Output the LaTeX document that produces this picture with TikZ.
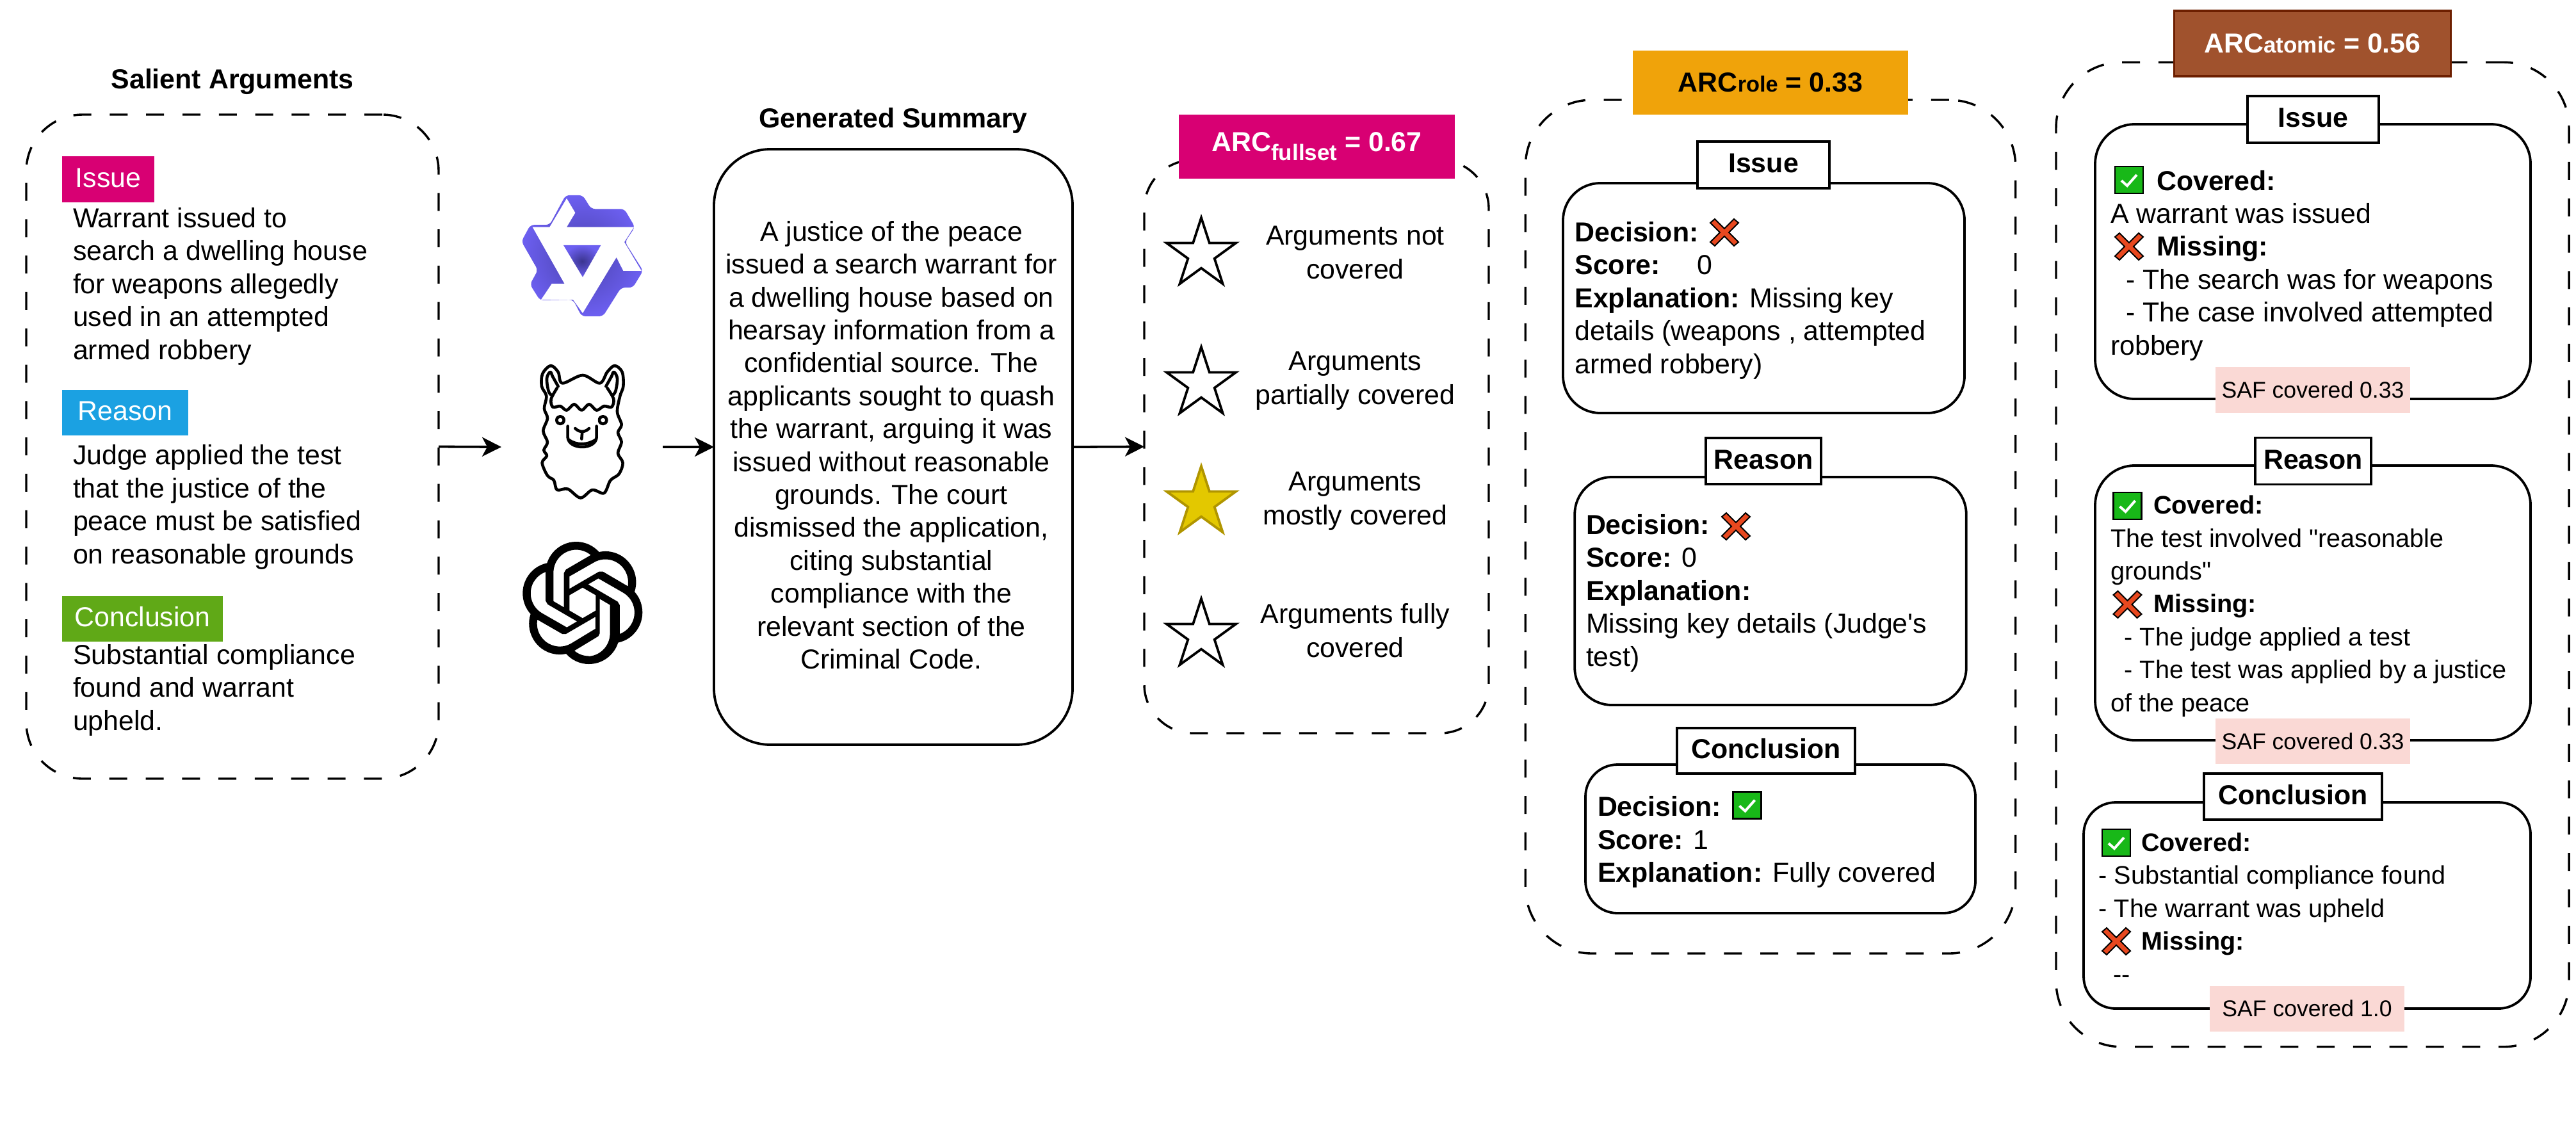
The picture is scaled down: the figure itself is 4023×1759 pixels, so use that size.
\documentclass[tikz,border=0pt]{standalone}
\usepackage{fontspec}
\defaultfontfeatures[\rmfamily]{}
\setmainfont{Liberation Sans}
\usetikzlibrary{arrows.meta,shapes.geometric,positioning,svg.path}

\definecolor{issuepink}{HTML}{D80073}
\definecolor{reasonblue}{HTML}{1BA1E2}
\definecolor{conclgreen}{HTML}{60A917}
\definecolor{roleorange}{HTML}{F0A30A}
\definecolor{atomicbrown}{HTML}{A0522D}
\definecolor{atomicedge}{HTML}{6D1F00}
\definecolor{safpink}{HTML}{FAD9D5}
\definecolor{stargold}{HTML}{E3C800}
\definecolor{staredge}{HTML}{B09500}
\definecolor{tickgreen}{HTML}{18B818}
\definecolor{crossred}{HTML}{E8481F}
\definecolor{qwenpurple}{HTML}{6C5FF0}
\definecolor{qwendark}{HTML}{3B3590}

\newcommand{\bodysize}{\fontsize{10.72}{12.85}\selectfont}
\newcommand{\tightsize}{\fontsize{9.9}{12.85}\selectfont}

\tikzset{
  tickbox/.pic={
    \draw[fill=tickgreen,line width=.6pt] (-22,-21) rectangle (22,21);
    \draw[white,line width=1pt] (-12,1) -- (-3,9) -- (12,-8);
  },
  crossbox/.pic={
    \draw[fill=crossred,line width=.5pt] (-22,-15) -- (-15,-21) -- (0,-6) -- (15,-21) -- (22,-15)
      -- (7,0) -- (22,15) -- (15,21) -- (0,6) -- (-15,21) -- (-22,15) -- (-7,0) -- cycle;
  }
}

\begin{document}
\begin{tikzpicture}[
        x=.25pt, y=-.25pt,
        every node/.style={inner sep=0pt, outer sep=0pt, font=\bodysize, align=center},
        size/.style 2 args={minimum width=#1*.25pt, minimum height=#2*.25pt},
        dashpanel/.style={draw, line width=.85pt, dash pattern=on 7pt off 7.2pt},
        panel/.style={draw, line width=.95pt, fill=white},
        tagbox/.style={text=white, text height=7.75pt, text depth=1.75pt},
        scoretag/.style={font=\bodysize\bfseries},
        rolelabel/.style={draw, line width=.95pt, fill=white, font=\bodysize\bfseries, text height=7.75pt, text depth=1.75pt},
        saftag/.style={fill=safpink, font=\fontsize{8.9}{10}\selectfont},
        bodytext/.style={anchor=base west, align=left},
        heading/.style={font=\bodysize\bfseries},
        ratestar/.style={star, star points=5, star point ratio=2.62, draw, line width=.95pt, fill=white, minimum size=28.5pt},
        flow/.style={line width=.95pt, -{Stealth[length=7.5pt,width=7.5pt,inset=2pt]}}
    ]
    \useasboundingbox (0,0) rectangle (4023,1759);

    % Salient arguments
    \node (salient) at (363,697.5) [dashpanel, size={644}{1037}, rounded corners=22pt] {};
    \node (salienttitle) [heading, above=7.75pt of salient] {Salient Arguments};
    \node (issuetag) at (169,280) [tagbox, fill=issuepink, size={144}{72}] {Issue};
    \node (issuetext) at (114,561) [bodytext] {Warrant issued to\\search a dwelling house\\for weapons allegedly\\used in an attempted\\armed robbery};
    \node (reasontag) at (195.5,644.5) [tagbox, fill=reasonblue, size={197}{71}] {Reason};
    \node (reasontext) at (114,880) [bodytext] {Judge applied the test\\that the justice of the\\peace must be satisfied\\on reasonable grounds};
    \node (conclusiontag) at (222.5,966.5) [tagbox, fill=conclgreen, size={251}{71}] {Conclusion};
    \node (conclusiontext) at (114,1140) [bodytext] {Substantial compliance\\found and warrant\\upheld.};

    % Model logos
    \node (models) at (909,698) [size={252}{60}] {};
    \begin{scope}[shift={(760,280)}, xscale=1/3, yscale=.4975]
      \shade[inner color=qwendark!70!qwenpurple, outer color=qwenpurple, rounded corners=1.5pt]
        (370,50) -- (450,50) -- (490,93) -- (645,93) -- (695,150) -- (648,197) -- (733,287) -- (685,340)
        -- (630,340) -- (545,430) -- (445,430) -- (405,378) -- (250,380) -- (203,330) -- (240,285)
        -- (163,195) -- (205,143) -- (295,143) -- cycle;
      \fill[white] (375,60) -- (415,105) -- (375,150) -- (690,150) -- (645,197) -- (725,287) -- (640,287)
        -- (608,245) -- (450,420) -- (405,378) -- (255,378) -- (305,328) -- (365,328) -- (215,150)
        -- (295,150) -- cycle;
      \shade[inner color=qwendark, outer color=qwenpurple] (360,207) -- (535,207) -- (450,307) -- cycle;
    \end{scope}
    \begin{scope}[shift={(760,280)}, xscale=1/3, yscale=.4975, line width=1.15pt, line join=round, line cap=round]
      \draw[fill=white] plot[smooth cycle, tension=.55] coordinates {
        (300,585) (262,610) (258,650) (280,680) (270,720) (285,750) (265,790) (285,825) (268,850)
        (282,868) (260,890) (285,930) (315,945) (330,975) (380,972) (440,1000) (495,975) (550,985)
        (580,945) (620,925) (638,890) (615,860) (632,825) (615,795) (632,770) (612,730) (625,680)
        (640,650) (635,605) (600,585) (565,605) (530,640) (450,615) (355,640) (335,605)};
      \draw plot[smooth, tension=.6] coordinates {(335,650) (310,620) (298,605) (282,625) (290,665) (305,678)};
      \draw plot[smooth, tension=.6] coordinates {(559,650) (584,620) (596,605) (612,625) (604,665) (589,678)};
      \draw plot[smooth, tension=.55] coordinates {(330,655) (302,690) (310,715) (345,712) (375,725) (410,706)
        (445,725) (480,706) (515,725) (550,712) (585,715) (595,690) (565,655)};
      \draw (345,756) ellipse (17 and 12);
      \draw (545,756) ellipse (17 and 12);
      \draw (380,775) -- (380,810) .. controls (385,850) and (510,850) .. (515,810) -- (515,775);
      \draw (385,818) .. controls (420,835) and (470,835) .. (510,818);
      \draw (415,782) .. controls (435,795) and (460,795) .. (480,782);
      \draw (448,792) -- (445,815);
    \end{scope}
    \begin{scope}[shift={(815,846)}, xscale=1.975, yscale=-1.99]
      \fill[even odd rule] svg {M22.2819 9.8211a5.9847 5.9847 0 0 0-.5157-4.9108 6.0462 6.0462 0 0 0-6.5098-2.9A6.0651 6.0651 0 0 0 4.9807 4.1818a5.9847 5.9847 0 0 0-3.9977 2.9 6.0462 6.0462 0 0 0 .7427 7.0966 5.98 5.98 0 0 0 .511 4.9107 6.051 6.051 0 0 0 6.5146 2.9001A5.9847 5.9847 0 0 0 13.2599 24a6.0557 6.0557 0 0 0 5.7718-4.2058 5.9894 5.9894 0 0 0 3.9977-2.9001 6.0557 6.0557 0 0 0-.7475-7.0729z
        M13.2599 22.4292a4.4755 4.4755 0 0 1-2.8764-1.0408L15.1 18.55l.3-.6v-6.7369L17.42 12.4v5.5826a4.504 4.504 0 0 1-4.4945 4.4944z
        M3.5992 18.3038a4.4708 4.4708 0 0 1-.5346-3.0137L8 18.1l.7.0l5.8428-3.3685v2.3324L9.74 19.9502a4.4992 4.4992 0 0 1-6.1408-1.6464z
        M2.3408 7.8956a4.485 4.485 0 0 1 2.3655-1.9728V11.6l.3879.6765 5.8144 3.3543-2.0201 1.1685-4.9-2.7865A4.504 4.504 0 0 1 2.3408 7.872z
        M18.9371 11.7514L13.1038 8.364 15.1192 7.2l4.9 2.7913a4.4944 4.4944 0 0 1-.6765 8.1042v-5.6772l-.407-.667z
        M20.9478 8.7283L16.03 5.86l-.7854 0L9.409 9.2297V6.8l4.86-2.75a4.4992 4.4992 0 0 1 6.6802 4.66z
        M8.3065 12.863l-2.06-1.2V6.0742a4.4992 4.4992 0 0 1 7.3757-3.4537L8.704 5.459l-.3927.6813z
        M9.4041 10.4976l2.602-1.4998 2.6069 1.4998v2.9994l-2.5974 1.4997-2.6067-1.4997z};
    \end{scope}

    % Generated summary
    \node (summary) at (1395,698) [panel, size={560}{930}, rounded corners=22pt] {};
    \node (summarytitle) [heading, above=6.25pt of summary] {Generated Summary};
    \node (summarytext) at (1392,695) {A justice of the peace\\issued a search warrant for\\a dwelling house based on\\hearsay information from a\\confidential source. The\\applicants sought to quash\\the warrant, arguing it was\\issued without reasonable\\grounds. The court\\dismissed the application,\\citing substantial\\compliance with the\\relevant section of the\\Criminal Code.};

    % Fullset rating
    \node (fullset) at (2056,697.5) [dashpanel, size={538}{895}, rounded corners=19pt] {};
    \node (fullsettag) at (2056.5,229) [scoretag, text=white, fill=issuepink, size={431}{100}] {ARC\raisebox{-3.5pt}{\fontsize{8.75}{10}\selectfont fullset} = 0.67};
    \node (star1) at (1876,397) [ratestar] {};
    \node (star2) at (1876,599) [ratestar] {};
    \node (star3) at (1876,785) [ratestar, fill=stargold, draw=staredge] {};
    \node (star4) at (1876,992) [ratestar] {};
    \node (rate1) at (2116.5,435) [anchor=base, font=\fontsize{10.72}{13.2}\selectfont] {Arguments not\\covered};
    \node (rate2) at (2116.5,631.6) [anchor=base, font=\fontsize{10.72}{13.2}\selectfont] {Arguments\\partially covered};
    \node (rate3) at (2116.5,819) [anchor=base, font=\fontsize{10.72}{13.2}\selectfont] {Arguments\\mostly covered};
    \node (rate4) at (2116.5,1026) [anchor=base, font=\fontsize{10.72}{13.2}\selectfont] {Arguments fully\\covered};

    % Role scores
    \node (rolebox) at (2765,822.5) [dashpanel, size={765.5}{1333}, rounded corners=26pt] {};
    \node (roletag) at (2765,129) [scoretag, fill=roleorange, size={430}{100}] {ARC{\fontsize{8.6}{10}\selectfont role} = 0.33};
    \node (roleissue) at (2754.5,465.5) [panel, size={627}{359}, rounded corners=14.5pt] {};
    \node (roleissuelabel) at (2754,257.5) [rolelabel, size={206}{73}] {Issue};
    \node (roleissuetext) at (2459.5,583) [bodytext] {\textbf{Decision:}\\\textbf{Score:}\hspace{14.5pt}0\\\textbf{Explanation:} Missing key\\details (weapons , attempted\\armed robbery)};
    \pic at (2693,363) {crossbox};
    \node (rolereason) at (2765,923) [panel, size={611.5}{356}, rounded corners=14.5pt] {};
    \node (rolereasonlabel) at (2754,720) [rolelabel, size={180}{72}] {Reason};
    \node (rolereasontext) at (2477,1040) [bodytext] {\textbf{Decision:}\\\textbf{Score:} 0\\\textbf{Explanation:}\\Missing key details (Judge's\\test)};
    \pic at (2711,822) {crossbox};
    \node (roleconcl) at (2780.5,1310) [panel, size={609}{232}, rounded corners=12.5pt] {};
    \node (roleconcllabel) at (2758,1172.5) [rolelabel, size={278}{71}] {Conclusion};
    \node (roleconcltext) at (2495,1377.5) [bodytext] {\textbf{Decision:}\\\textbf{Score:} 1\\\textbf{Explanation:} Fully covered};
    \pic at (2728.5,1257.5) {tickbox};

    % Atomic scores
    \node (atomicbox) at (3611.5,866) [dashpanel, size={801}{1537.5}, rounded corners=25.5pt] {};
    \node (atomictag) at (3611.5,68) [scoretag, text=white, draw=atomicedge, line width=.8pt, fill=atomicbrown, size={431.5}{102}] {ARC{\fontsize{8.75}{10}\selectfont atomic} = 0.56};
    \node (atomicissue) at (3612,408.5) [panel, size={680}{429}, rounded corners=15.5pt] {};
    \node (atomicissuelabel) at (3612.5,186.5) [rolelabel, size={205}{73}] {Issue};
    \node (atomicissuetext) at (3296,554) [bodytext] {\hspace*{18pt}\textbf{Covered:}\\A warrant was issued\\\hspace*{18pt}\textbf{Missing:}\\\hspace*{6pt}- The search was for weapons\\\hspace*{6pt}- The case involved attempted\\robbery};
    \pic at (3325,281) {tickbox};
    \pic at (3325,385) {crossbox};
    \node (atomicissuesaf) at (3612,609) [saftag, size={304}{72}] {SAF covered 0.33};
    \node (atomicreason) at (3612,941.5) [panel, size={680}{429}, rounded corners=15.5pt] {};
    \node (atomicreasonlabel) at (3612.5,720) [rolelabel, size={181}{73}] {Reason};
    \node (atomicreasontext) at (3296,1111) [bodytext, font=\tightsize] {\hspace*{16.75pt}\textbf{Covered:}\\The test involved "reasonable\\grounds"\\\hspace*{16.75pt}\textbf{Missing:}\\\hspace*{5.4pt}- The judge applied a test\\\hspace*{5.4pt}- The test was applied by a justice\\of the peace};
    \pic at (3322.5,790) {tickbox};
    \pic at (3322.5,944) {crossbox};
    \node (atomicreasonsaf) at (3612,1157.5) [saftag, size={304}{71}] {SAF covered 0.33};
    \node (atomicconcl) at (3603,1414) [panel, size={698}{322}, rounded corners=12.5pt] {};
    \node (atomicconcllabel) at (3581,1244) [rolelabel, size={278}{72}] {Conclusion};
    \node (atomicconcltext) at (3277.6,1535) [bodytext, font=\tightsize] {\hspace*{16.6pt}\textbf{Covered:}\\- Substantial compliance found\\- The warrant was upheld\\\hspace*{16.6pt}\textbf{Missing:}\\\hspace*{5.6pt}--};
    \pic at (3305,1316) {tickbox};
    \pic at (3305,1470) {crossbox};
    \node (atomicconclsaf) at (3603,1575) [saftag, size={304}{71}] {SAF covered 1.0};

    % Edges
    \draw[flow] (salient.east) -- (models.west);
    \draw[flow] (models.east) -- (summary.west);
    \draw[flow] (summary.east) -- (fullset.west);

\end{tikzpicture}
\end{document}
